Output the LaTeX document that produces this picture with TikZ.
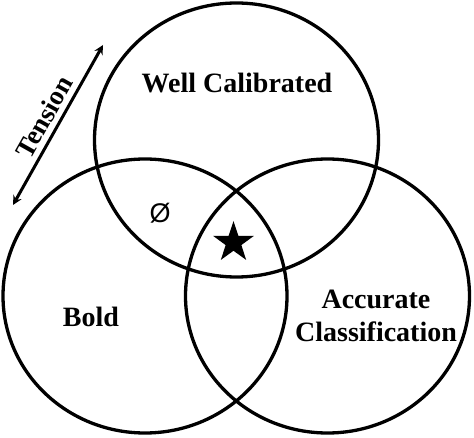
\documentclass[tikz,border=0pt]{standalone}
\usepackage{fontspec}
\setmainfont{Liberation Serif}
\newfontfamily\symfont{Liberation Sans}
\usetikzlibrary{arrows,shapes.geometric}

\begin{document}
\begin{tikzpicture}[
    x = 1pt, y = -1pt, % pixel units, y pointing down
    > = stealth, % arrow head style
    semithick % line style
]
\tikzstyle{set}=[
    ellipse,
    draw = black,
    line width = 3.3pt,
    minimum width = 284pt,
    minimum height = 274pt,
    inner sep = 0pt
]
\tikzstyle{setname}=[
    font = \bfseries\fontsize{28}{33}\selectfont,
    align = center,
    inner sep = 0pt
]

\useasboundingbox (0,0) rectangle (474,438);

\node[set] (wc) at (236.5,140) {};
\node[set] (bo) at (145,296) {};
\node[set] (ac) at (327.5,296) {};

\node[setname] (wct) at (237,83) {Well Calibrated};
\node[setname] (bot) at (91,317) {Bold};
\node[setname] (act) at (376,316) {Accurate\\Classification};

\node[star, star points=5, star point ratio=2.6, fill=black,
    minimum size=43pt, inner sep=0pt] (st) at (233.5,242.5) {};
\node (em) at (160,213) {\symfont\fontsize{27}{30}\selectfont Ø};

\coordinate (t1) at (103,45);
\coordinate (t2) at (13,205);
\draw[<->, line width=3pt] (t2) -- node[sloped, above, setname,
    font=\bfseries\fontsize{27}{30}\selectfont, yshift=5pt] {Tension} (t1);

\end{tikzpicture}
\end{document}
